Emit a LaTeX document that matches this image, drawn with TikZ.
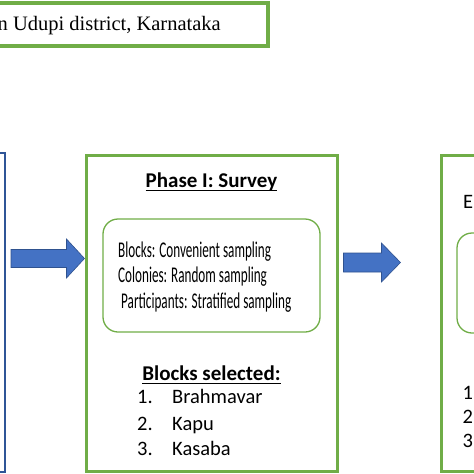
\documentclass[tikz,border=0pt]{standalone}
\usepackage{fontspec}
\setmainfont{Carlito}
\newfontfamily\timesfont{Liberation Serif}
\newfontfamily\narrowfont[FakeStretch=0.585]{Carlito}
\usetikzlibrary{positioning}
\definecolor{boxgreen}{HTML}{70AD47}
\definecolor{boxblue}{HTML}{2F5597}
\definecolor{arrowblue}{HTML}{4472C4}
\definecolor{arrowedge}{HTML}{2F528F}
\newcommand{\ulinetext}[1]{\setbox0\hbox{#1}\rlap{\vrule height -3pt depth 4.3pt width \wd0}\box0}

\begin{document}
\begin{tikzpicture}[x = 1pt, y = -1pt,
    phase/.style = {draw = boxgreen, line width = 3pt, minimum width = 251pt, minimum height = 316pt, inner sep = 0pt},
    inbox/.style = {draw = boxgreen, line width = 1.3pt, rounded corners = 15pt, minimum width = 217pt, minimum height = 113pt, inner sep = 0pt},
    txt/.style = {anchor = base west, inner sep = 0pt, font = \fontsize{20.5}{24}\selectfont},
    samp/.style = {anchor = base west, inner sep = 0pt, font = \narrowfont\fontsize{22.5}{26}\selectfont},
    head/.style = {anchor = base, inner sep = 0pt, font = \bfseries\fontsize{21}{25}\selectfont},
    blockarrow/.style = {fill = arrowblue, draw = arrowedge, line width = 0.6pt}]
    \useasboundingbox (0,0) rectangle (474,474);
    \clip (0,0) rectangle (474,474);

    % top banner
    \node[draw = boxgreen, line width = 3.5pt, minimum width = 330pt, minimum height = 43pt] (study) at (103,24.5) {};
    \node[anchor = base east, inner sep = 0pt, font = \timesfont\fontsize{20.5}{24}\selectfont] (studytext) at (221,30) {n Udupi district, Karnataka};

    % boxes
    \node[draw = boxblue, line width = 2pt, minimum width = 150pt, minimum height = 319pt] (method) at (-70,312.5) {};
    \node[phase] (phase1) at (211.5,313) {};
    \node[phase] (phase2) at (566.5,313) {};
    \node[inbox] (sampling) at (211.5,275.5) {};
    \node[inbox, minimum height = 100pt] (sampling2) at (565.5,283) {};

    % phase I
    \node[head] (title1) at (211.5,187) {\ulinetext{Phase I: Survey}};
    \node[samp] (blocks) at (118,257) {Blocks: Convenient sampling};
    \node[samp] (colonies) at (118,282) {Colonies: Random sampling};
    \node[samp] (participants) at (121,308) {Participants: Stratified sampling};
    \node[head] (selected) at (211.5,380) {\ulinetext{Blocks selected:}};
    \node[txt] (n1) at (137,403) {1.};
    \node[txt] (brahmavar) at (172,403) {Brahmavar};
    \node[txt] (n2) at (137,430) {2.};
    \node[txt] (kapu) at (172,430) {Kapu};
    \node[txt] (n3) at (137,455) {3.};
    \node[txt] (kasaba) at (172,455) {Kasaba};

    % phase II (cut off)
    \node[txt] (title2) at (463,208) {E};
    \node[txt] (r1) at (462.5,399) {1};
    \node[txt] (r2) at (462.5,423) {2};
    \node[txt] (r3) at (462.5,447) {3};

    % arrows
    \coordinate (a1) at ([xshift = 5pt] method.east |- 0,258.5);
    \coordinate (b1) at (phase1.west |- a1);
    \path[blockarrow] ([yshift = 9pt] a1) -- ([xshift = -18pt, yshift = 9pt] b1)
        -- ([xshift = -18pt, yshift = 19.5pt] b1) -- (b1)
        -- ([xshift = -18pt, yshift = -19.5pt] b1) -- ([xshift = -18pt, yshift = -9pt] b1)
        -- ([yshift = -9pt] a1) -- cycle;
    \coordinate (a2) at ([xshift = 5pt] phase1.east |- 0,262.5);
    \coordinate (b2) at ([xshift = -39pt] phase2.west |- a2);
    \path[blockarrow] ([yshift = 9.5pt] a2) -- ([xshift = -19pt, yshift = 9.5pt] b2)
        -- ([xshift = -19pt, yshift = 19.5pt] b2) -- (b2)
        -- ([xshift = -19pt, yshift = -19.5pt] b2) -- ([xshift = -19pt, yshift = -9.5pt] b2)
        -- ([yshift = -9.5pt] a2) -- cycle;
\end{tikzpicture}
\end{document}
